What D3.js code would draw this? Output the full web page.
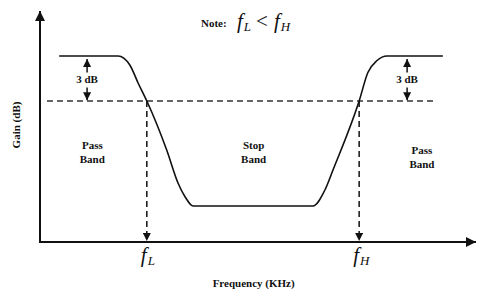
<!DOCTYPE html>
<html>
<head>
<meta charset="utf-8">
<script src="https://cdn.jsdelivr.net/npm/d3@7"></script>
<style>
  body { margin: 0; background: #fff; }
  text { font-family: "Liberation Serif", "Times New Roman", serif; fill: #111; }
  .lbl { font-weight: bold; font-size: 11px; }
  .math { font-style: italic; font-size: 21px; }
</style>
</head>
<body>
<svg id="chart"></svg>
<script>
// band-stop response, frequency in arbitrary units (0-100), gain in dB
const freq = [4.4, 17.9, 20.6, 22.5, 24.5, 29.1, 31.7, 33.3, 35.1, 62.6, 65.4, 67.2, 73.2, 75.2, 77.3, 79.6, 92.4];
const gain = [0, 0, -0.6, -1.8, -3, -6.3, -8.5, -9.4, -10, -10, -8.9, -7.6, -3, -1.1, -0.3, 0, 0];
const cutoffs = [{ f: 24.5, name: "L" }, { f: 73.2, name: "H" }];
const halfPower = -3;
const bands = [
    { f: 12, g: -6.2, lines: ["Pass", "Band"] },
    { f: 49, g: -6.2, lines: ["Stop", "Band"] },
    { f: 87.6, g: -6.5, lines: ["Pass", "Band"] }
];
const dbMarks = [10.8, 84.2];

const width = 494, height = 300;
const svg = d3.select("#chart").attr("width", width).attr("height", height);

const x = d3.scaleLinear().domain([0, 100]).range([40, 476]);
const y = d3.scaleLinear().domain([-12.4, 3]).range([242, 11]);

const defs = svg.append("defs");
defs.append("marker")
    .attr("id", "arr")
    .attr("viewBox", "0 0 10 10")
    .attr("refX", 10).attr("refY", 5)
    .attr("markerWidth", 8).attr("markerHeight", 8)
    .attr("markerUnits", "userSpaceOnUse")
    .attr("orient", "auto")
    .append("path").attr("d", "M0,0L10,5L0,10z").attr("fill", "#111");
defs.append("marker")
    .attr("id", "big")
    .attr("viewBox", "0 0 10 10")
    .attr("refX", 10).attr("refY", 5)
    .attr("markerWidth", 11).attr("markerHeight", 10)
    .attr("markerUnits", "userSpaceOnUse")
    .attr("orient", "auto")
    .append("path").attr("d", "M0,0L10,5L0,10z").attr("fill", "#111");

// axes
svg.append("line")
    .attr("x1", x(0)).attr("y1", y(-12.4))
    .attr("x2", x(0)).attr("y2", y(3))
    .attr("stroke", "#111").attr("stroke-width", 2)
    .attr("marker-end", "url(#big)");
svg.append("line")
    .attr("x1", x(0) - 1).attr("y1", y(-12.4))
    .attr("x2", x(100)).attr("y2", y(-12.4))
    .attr("stroke", "#111").attr("stroke-width", 2)
    .attr("marker-end", "url(#big)");

// -3 dB line
svg.append("line")
    .attr("x1", x(1.6)).attr("x2", x(90.4))
    .attr("y1", y(halfPower)).attr("y2", y(halfPower))
    .attr("stroke", "#333").attr("stroke-width", 1.5)
    .attr("stroke-dasharray", "6,4");

// cutoff drop lines
svg.selectAll(".drop")
    .data(cutoffs)
    .enter().append("line")
    .attr("x1", d => x(d.f)).attr("x2", d => x(d.f))
    .attr("y1", y(halfPower)).attr("y2", y(-12.4) - 1)
    .attr("stroke", "#111").attr("stroke-width", 1.5)
    .attr("stroke-dasharray", "6,4")
    .attr("marker-end", "url(#arr)");

// response curve
const pts = freq.map((f, i) => ({ f: f, g: gain[i] }));
svg.append("path")
    .datum(pts)
    .attr("fill", "none")
    .attr("stroke", "#111")
    .attr("stroke-width", 1.6)
    .attr("d", d3.line().x(d => x(d.f)).y(d => y(d.g)).curve(d3.curveMonotoneX));

// 3 dB markers
dbMarks.forEach(f => {
    svg.append("line")
        .attr("x1", x(f)).attr("x2", x(f))
        .attr("y1", y(-1.1)).attr("y2", y(-0.2))
        .attr("stroke", "#111").attr("stroke-width", 1.5)
        .attr("marker-end", "url(#arr)");
    svg.append("line")
        .attr("x1", x(f)).attr("x2", x(f))
        .attr("y1", y(-2.1)).attr("y2", y(-2.95))
        .attr("stroke", "#111").attr("stroke-width", 1.5)
        .attr("marker-end", "url(#arr)");
    svg.append("text").attr("class", "lbl")
        .attr("x", x(f)).attr("y", y(-1.82))
        .attr("text-anchor", "middle")
        .text("3 dB");
});

// band labels
bands.forEach(b => {
    const t = svg.append("text").attr("class", "lbl").attr("text-anchor", "middle");
    b.lines.forEach((s, i) => {
        t.append("tspan").attr("x", x(b.f)).attr("y", y(b.g) + i * 14).text(s);
    });
});

// cutoff labels
cutoffs.forEach(c => {
    const t = svg.append("text").attr("class", "math")
        .attr("x", x(c.f) - 6).attr("y", 262);
    t.append("tspan").text("f");
    t.append("tspan").attr("font-size", "13px").attr("dx", "1").attr("dy", "3").text(c.name);
});

// note
const note = svg.append("text").attr("y", 27);
note.append("tspan").attr("class", "lbl").attr("x", 201).text("Note:");
const m = svg.append("text").attr("class", "math").attr("x", 237).attr("y", 28);
m.append("tspan").text("f");
m.append("tspan").attr("font-size", "13px").attr("dx", "1").attr("dy", "3").text("L");
m.append("tspan").attr("font-style", "normal").attr("dx", "5").attr("dy", "-3").text("<");
m.append("tspan").attr("dx", "6").text("f");
m.append("tspan").attr("font-size", "13px").attr("dx", "1").attr("dy", "3").text("H");

// axis titles
svg.append("text").attr("class", "lbl")
    .attr("x", x(49)).attr("y", 287)
    .attr("text-anchor", "middle")
    .text("Frequency (KHz)");
svg.append("text").attr("class", "lbl")
    .attr("transform", "translate(20,125) rotate(-90)")
    .attr("text-anchor", "middle")
    .text("Gain (dB)");
</script>
</body>
</html>
